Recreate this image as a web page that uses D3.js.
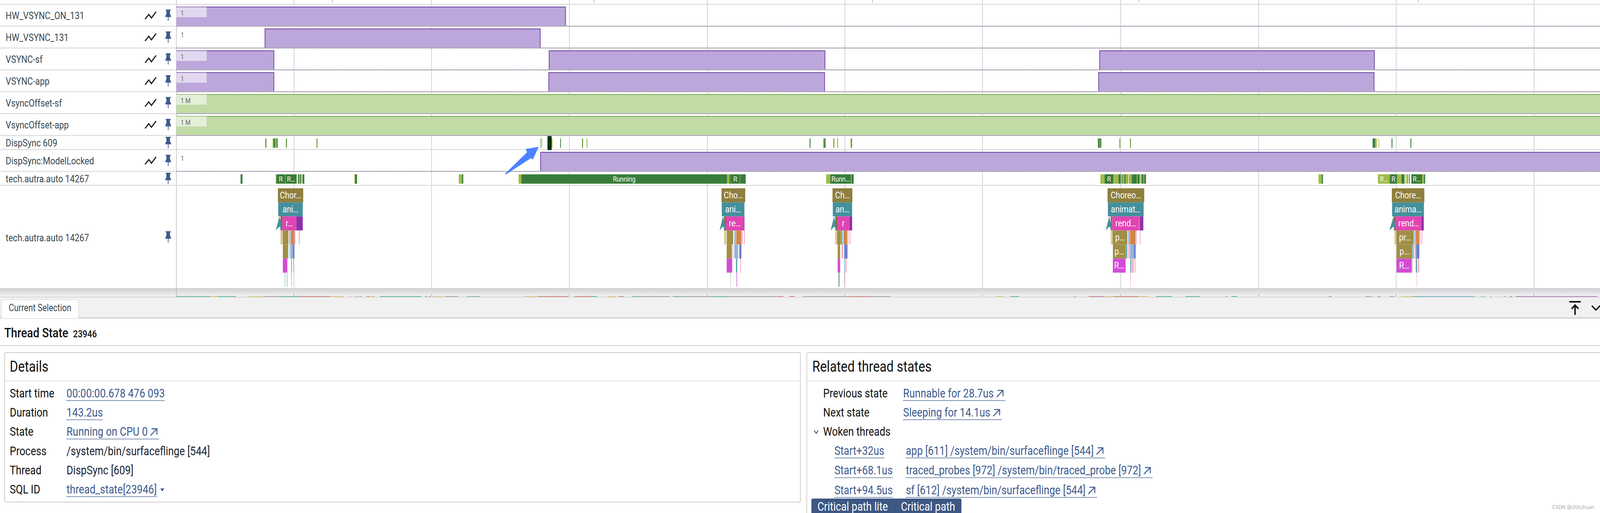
<!DOCTYPE html>
<html lang="en">
<head>
<meta charset="UTF-8">
<script src="https://d3js.org/d3.v7.min.js"></script>
<style>
  html, body { margin: 0; padding: 0; background: #fff; overflow: hidden; }
  svg { display: block; width: 100vw; height: 100vh; font-family: Roboto, sans-serif; }
</style>
</head>
<body>
<!-- the browser window can come out narrower than asked, so the drawing scales to whatever it gets -->
<svg id="chart" viewBox="0 0 4490 1314" preserveAspectRatio="none"></svg>
<script>
// timeline units run from 0 to 3995 across the track area
const timeDomain = [0, 3995];
const gridTicks = [330, 716, 1103, 1490, 1876, 2262, 2650, 3037, 3423, 3810];
const topTicks = [438, 1172, 1953, 2701, 3485];

const trackNames = ['HW_VSYNC_ON_131', 'HW_VSYNC_131', 'VSYNC-sf', 'VSYNC-app', 'VsyncOffset-sf', 'VsyncOffset-app',
  'DispSync 609', 'DispSync:ModelLocked', 'tech.autra.auto 14267', 'tech.autra.auto 14267'];
const trackKinds = ['counter', 'counter', 'counter', 'counter', 'counter', 'counter', 'thread', 'counter', 'thread', 'flame'];
const counterLabels = ['1', '1', '1', '1', '1 M', '1 M', '', '1', '', ''];

// counters: [time, value] steps
const hwVsyncOn = [[0, 1], [1092, 0], [3995, 0]];
const hwVsync = [[0, 0], [248.6, 1], [1021, 0], [3995, 0]];
const vsyncSf = [[0, 1], [273.5, 0], [1046, 1], [1820, 0], [2591, 1], [3362, 0], [3995, 0]];
const vsyncApp = [[0, 1], [273.5, 0], [1045, 1], [1819, 0], [2588, 1], [3361, 0], [3995, 0]];
const offsetSf = [[0, 1], [3995, 1]];
const offsetApp = [[0, 1], [3995, 1]];
const modelLocked = [[0, 0], [1022, 1], [3995, 1]];
const counterSeries = [hwVsyncOn, hwVsync, vsyncSf, vsyncApp, offsetSf, offsetApp, null, modelLocked, null, null];

// thread states: [start, end, state, label]
const dispSyncStates = [
  [249.6, 252, 'R'], [252, 253, 'r'], [270, 272.5, 'r'], [272.5, 277, 'R'], [277, 281, 'r'], [281, 283.5, 'R'], [283.5, 285, 'r'],
  [307, 308.5, 'r'], [308.5, 310, 'R'], [393, 394, 'r'], [394, 395.6, 'R'],
  [1022, 1023.3, 'R'], [1025, 1026.5, 'r'], [1053, 1055.5, 'r'], [1077, 1079, 'R'],
  [1138, 1139.5, 'r'], [1139.5, 1141, 'R'], [1151, 1153.6, 'r'],
  [1777, 1779.5, 'R'], [1816, 1819, 'R'], [1819, 1820, 'r'], [1820, 1822, 'R'], [1843, 1847, 'r'], [1855, 1856.5, 'R'],
  [1891.6, 1894, 'r'], [1894, 1896, 'R'],
  [2586, 2590, 'R'], [2590, 2591, 'r'], [2591, 2594, 'R'], [2594, 2596.5, 'r'], [2645.5, 2649, 'r'], [2676, 2677, 'r'], [2677, 2678.6, 'R'],
  [3357, 3364, 'R'], [3364, 3368.5, 'r'], [3373.5, 3375, 'r'], [3410, 3412.5, 'R'], [3463, 3465.5, 'R']
];
const selectedState = [1041.4, 1053];
const techStates = [
  [180, 185.5, 'R'],
  [278.7, 280.5, 'r'], [280.5, 305.4, 'R', 'R'], [305.9, 337.6, 'R', 'R…'], [340.3, 342, 'r'], [342, 345, 'R'], [345, 348, 'r'], [348, 351, 'R'], [353.7, 359, 'R'],
  [499.6, 501.5, 'r'], [501.5, 506.8, 'R'],
  [792.5, 801.4, 'r'], [801.4, 805, 'R'],
  [960.3, 968, 'r'], [968, 1545.6, 'R', 'Running'], [1545.6, 1551.7, 'r'], [1551.7, 1555.6, 'R'], [1556, 1581, 'R', 'R'], [1581.6, 1597.6, 'R'],
  [1823.4, 1835, 'r'], [1835, 1893, 'R', 'Runn…'], [1894, 1900.6, 'R'],
  [2593, 2604.8, 'r'], [2604.8, 2629.7, 'R', 'R'], [2629.7, 2643.8, 'r'], [2643.8, 2650, 'R'], [2651, 2654, 'r'], [2654, 2656, 'R'], [2656, 2660, 'r'],
  [2660, 2664, 'R'], [2664, 2668, 'r'], [2668, 2670, 'R'], [2672, 2681, 'r'], [2681, 2695, 'R'], [2695, 2697, 'r'], [2697, 2703.5, 'R'],
  [2705, 2709, 'r'], [2709, 2714, 'R'], [2714, 2716, 'r'], [2716, 2721, 'R'],
  [3205, 3214, 'r'], [3214, 3217.6, 'R'],
  [3371.8, 3405, 'r', 'R…'], [3405, 3425.7, 'R', 'R'], [3425.7, 3438, 'r'], [3438, 3446, 'R'], [3447, 3449, 'r'], [3451, 3457, 'r'], [3459, 3461, 'R'],
  [3465.6, 3496, 'R', 'R…'], [3496, 3501, 'r'], [3501, 3504.5, 'R']
];

// flame slices: [start, end, depth, kind, label]
const flameBurst1 = [
  [284.9, 355.9, 0, 'choreo', 'Chor…'], [285.8, 354.6, 1, 'anim', 'ani…'],
  [292, 297.4, 2, 'brown'], [297.4, 336.7, 2, 'render', 'r…'], [336.7, 354.6, 2, 'draw'],
  [292, 298.7, 3, 'tan'], [298.7, 314.4, 3, 'olive'], [316.6, 320, 3, 'blue'], [321, 331, 3, 'orange'], [331.8, 333.6, 3, 'rose'], [343.8, 345.6, 3, 'rose'],
  [298.7, 310.8, 4, 'olive'], [310.8, 314, 4, 'teal'], [317.5, 318.8, 4, 'rose'], [320, 327, 4, 'blue'], [327, 331.3, 4, 'navy'],
  [298.7, 311.3, 5, 'magenta'], [322, 324, 5, 'teal'], [328, 329.5, 5, 'rose'],
  [304, 305, 6, 'mint'], [310, 311.3, 6, 'teal'], [322.9, 323.8, 6, 'magenta']
];
const flameBurst2 = [
  [1529.7, 1596.3, 0, 'choreo', 'Cho…'], [1530.5, 1594, 1, 'anim', 'ani…'],
  [1536.6, 1542.8, 2, 'brown'], [1542.8, 1591.7, 2, 'render', 're…'], [1591.7, 1594, 2, 'draw'],
  [1536.6, 1542.8, 3, 'tan'], [1544.3, 1562.6, 3, 'olive'], [1565.7, 1570.3, 3, 'blue'], [1571, 1585.6, 3, 'orange'], [1587, 1588.7, 3, 'rose'], [1593.2, 1594.8, 3, 'rose'],
  [1544.3, 1558.8, 4, 'olive'], [1561, 1562.6, 4, 'rose'], [1565.7, 1576.4, 4, 'blue'], [1579.5, 1585.6, 4, 'navy'],
  [1544.3, 1559.6, 5, 'magenta'], [1570.3, 1574, 5, 'teal'], [1582.5, 1584, 5, 'rose'],
  [1555, 1555.8, 6, 'mint'], [1571.8, 1573.3, 6, 'magenta']
];
const flameBurst3 = [
  [1841.2, 1897, 0, 'choreo', 'Ch…'], [1842, 1896.3, 1, 'anim', 'an…'],
  [1848.9, 1854.2, 2, 'brown'], [1854.2, 1888.6, 2, 'render', 'r'], [1888.6, 1896.3, 2, 'draw'],
  [1848.9, 1854.2, 3, 'tan'], [1854.2, 1865, 3, 'olive'], [1865.7, 1869.5, 3, 'teal'], [1871.8, 1882.5, 3, 'orange'], [1884, 1885.6, 3, 'rose'], [1889.4, 1891, 3, 'rose'],
  [1855.8, 1862.7, 4, 'olive'], [1867.2, 1870.3, 4, 'rose'], [1874, 1883.3, 4, 'navy'],
  [1855.8, 1862.7, 5, 'magenta'], [1875, 1877, 5, 'teal'], [1879.5, 1881, 5, 'rose'],
  [1858, 1861, 6, 'mint'], [1874, 1875, 6, 'rose']
];
const flameBurst4 = [
  [2613, 2716, 0, 'choreo', 'Choreo…'], [2614, 2714.3, 1, 'anim', 'animat…'],
  [2622, 2626.4, 2, 'brown'], [2626.4, 2701.8, 2, 'render', 'rend…'], [2702.7, 2713.5, 2, 'draw'],
  [2622, 2626.4, 3, 'tan'], [2627, 2668.7, 3, 'olive', 'p…'], [2671, 2675.3, 3, 'blue'], [2676, 2691.9, 3, 'orange'], [2693.6, 2695, 3, 'rose'], [2703.5, 2705, 3, 'rose'],
  [2628, 2664.5, 4, 'olive', 'p…'], [2665, 2668.7, 4, 'teal'], [2672, 2674.5, 4, 'rose'], [2676, 2687, 4, 'blue'], [2687, 2692, 4, 'navy'],
  [2628, 2663.7, 5, 'magenta', 'R…'], [2677, 2680.3, 5, 'teal'], [2682.8, 2686, 5, 'rose'], [2689.4, 2691, 5, 'rose'],
  [2677, 2678, 6, 'rose']
];
const flameBurst5 = [
  [3410.8, 3502, 0, 'choreo', 'Chore…'], [3411.6, 3501, 1, 'anim', 'anima…'],
  [3416.6, 3422.4, 2, 'brown'], [3422.4, 3493.7, 2, 'render', 'rend…'], [3493.7, 3500.4, 2, 'draw'],
  [3418, 3422.4, 3, 'tan'], [3423.3, 3472.2, 3, 'olive', 'pr…'], [3473.8, 3477, 3, 'blue'], [3478, 3488, 3, 'orange'], [3489.6, 3491, 3, 'rose'], [3494.6, 3496, 3, 'rose'],
  [3424, 3468, 4, 'olive', 'p…'], [3469, 3472, 4, 'teal'], [3475, 3477.5, 4, 'rose'], [3478.8, 3488, 4, 'navy'],
  [3424, 3467, 5, 'magenta', 'R…'], [3468, 3469.6, 5, 'tan'], [3478, 3482, 5, 'teal'], [3484.6, 3487, 5, 'rose'],
  [3480.5, 3481.3, 6, 'rose']
];
const flameSlices = [...flameBurst1, ...flameBurst2, ...flameBurst3, ...flameBurst4, ...flameBurst5];
// instant events on depth 2: [left, apex, right]
const flameInstants = [[279, 289, 299], [1524.4, 1533.6, 1543.5], [1835.8, 1845.8, 1853.4], [2608, 2618, 2626.4], [3404, 3415.8, 3422.4]];

// overview strip under the tracks: [start, end, group]
const overviewSlices = [
  [1, 94, 'teal'], [94, 115, 'gold'], [115, 167, 'teal'], [203, 247, 'gold'], [247, 290, 'gray'], [290, 347, 'teal'], [347, 431, 'red'], [431, 470, 'gold'],
  [486, 489, 'red'], [500, 511, 'gold'], [513, 520, 'blue'], [534, 543, 'red'], [545, 558, 'gold'], [571, 687, 'teal'], [698, 703, 'teal'], [707, 713, 'red'],
  [720, 747, 'gold'], [752, 790, 'gray'], [814, 828, 'cyan'], [828, 852, 'gray'], [977, 1015, 'gold'], [1015, 1100, 'red'], [1117, 1165, 'red'], [1165, 1180, 'teal'],
  [1192, 1195, 'gold'], [1211, 1234, 'gold'], [1241, 1256, 'red'], [1279, 1295, 'teal'], [1295, 1385, 'gray'], [1393, 1420, 'teal'], [1420, 1505, 'gray'],
  [1505, 1550, 'teal'], [1550, 1687, 'gray'], [1687, 1703, 'red'], [1720, 1735, 'red'], [1758, 1888, 'gray'], [1888, 1949, 'red'], [1949, 2005, 'gray'],
  [2300, 2320, 'gold'], [2340, 2365, 'teal'], [2517, 2525, 'gold'], [2560, 2587, 'red'], [2587, 2604, 'purple'], [2604, 2629, 'gold'], [2629, 2699, 'red'],
  [2699, 2728, 'gold'], [2749, 2795, 'teal'], [2832, 2873, 'teal'], [2944, 2948, 'purple'], [2961, 2977, 'teal'], [3234, 3242, 'teal'], [3337, 3354, 'gray'],
  [3371, 3380, 'blue'], [3405, 3417, 'gray'], [3437, 3470, 'gold'], [3470, 3500, 'teal'], [3500, 3645, 'blue'], [3660, 3664, 'gray'], [3668, 3672, 'teal'],
  [3687, 3690, 'teal'], [3724, 3730, 'gray'], [3742, 3748, 'purple'], [3758, 3988, 'purple']
];

const detailLabels = ['Start time', 'Duration', 'State', 'Process', 'Thread', 'SQL ID'];
const detailValues = ['00:00:00.678 476 093', '143.2us', 'Running on CPU 0', '/system/bin/surfaceflinge [544]', 'DispSync [609]', 'thread_state[23946]'];
const relatedLabels = ['Previous state', 'Next state', 'Woken threads'];
const relatedValues = ['Runnable for 28.7us', 'Sleeping for 14.1us', ''];
const wokenOffsets = ['Start+32us', 'Start+68.1us', 'Start+94.5us'];
const wokenThreads = ['app [611] /system/bin/surfaceflinge [544]', 'traced_probes [972] /system/bin/traced_probe [972]', 'sf [612] /system/bin/surfaceflinge [544]'];

const counterColors = { purple: ['#bca6db', '#6b40a0'], green: ['#c1dba5', '#76a84a'] };
const stateColors = { R: '#387d3a', r: '#9fbb45' };
const flameColors = {
  choreo: '#8f7f3e', anim: '#44909c', brown: '#8a6b3c', render: '#e244b4', draw: '#8e32a8', tan: '#dcc89a', olive: '#a08f45',
  blue: '#94b2d8', orange: '#d2854a', rose: '#e888a8', teal: '#5ea9b0', navy: '#6a7fc8', magenta: '#d24cd6', mint: '#6aa88a'
};
const overviewColors = { teal: '#1aa08a', gold: '#e0b83f', gray: '#8a8a8a', red: '#d24b45', blue: '#3f9fd0', cyan: '#2fb8d0', purple: '#9a4fb0' };

const sepColor = '#dcdcdc';
const linkColor = '#3d5a8c';
const labelColor = '#37474f';
// the reference text is a little narrower than plain Roboto
const squeezeX = 0.92;

const svg = d3.select('#chart');
const x = d3.scaleLinear().domain(timeDomain).range([495, 4490]);

function squeeze(sel) {
  const w = sel.node().getComputedTextLength();
  if (w > 0) sel.attr('textLength', w * squeezeX).attr('lengthAdjust', 'spacingAndGlyphs');
  return w * squeezeX;
}

// track layout
const kindHeight = { counter: 56, thread: 36, flame: 263.5 };
const tracksTop = 11;
let cursor = tracksTop;
const tracks = trackNames.map((name, i) => {
  const t = { name, kind: trackKinds[i], top: cursor, h: kindHeight[trackKinds[i]], series: counterSeries[i], label: counterLabels[i], green: name.startsWith('VsyncOffset') };
  cursor += t.h;
  return t;
});
const tracksBottom = cursor;

const gGrid = svg.append('g');
gGrid.selectAll('line').data(gridTicks).enter().append('line')
  .attr('x1', d => x(d)).attr('x2', d => x(d)).attr('y1', 0).attr('y2', tracksBottom)
  .attr('stroke', '#cfcfd2').attr('stroke-width', 2);
svg.append('line').attr('x1', 495).attr('x2', 495).attr('y1', 0).attr('y2', 760).attr('stroke', '#c4c6cc').attr('stroke-width', 2);
svg.append('g').selectAll('line').data(topTicks).enter().append('line')
  .attr('x1', d => x(d)).attr('x2', d => x(d)).attr('y1', 0).attr('y2', 6)
  .attr('stroke', '#8a9ae8').attr('stroke-width', 1.5);

// counters
const counterTracks = tracks.filter(t => t.kind === 'counter');
counterTracks.forEach(t => {
  const y = d3.scaleLinear().domain([0, 1]).range([t.top + t.h, t.top + 7]);
  const [fill, stroke] = t.green ? counterColors.green : counterColors.purple;
  const area = d3.area().x(d => x(d[0])).y0(y(0)).y1(d => y(d[1])).curve(d3.curveStepAfter);
  const line = d3.line().x(d => x(d[0])).y(d => y(d[1])).curve(d3.curveStepAfter);
  svg.append('path').datum(t.series).attr('d', area).attr('fill', fill);
  svg.append('path').datum(t.series).attr('d', line).attr('fill', 'none').attr('stroke', stroke).attr('stroke-width', 2);
});

// separators sit over the counter baselines
svg.append('g').selectAll('line').data([tracksTop, ...tracks.map(t => t.top + t.h)].slice(0, 10)).enter().append('line')
  .attr('x1', 0).attr('x2', 4490).attr('y1', d => d).attr('y2', d => d)
  .attr('stroke', sepColor).attr('stroke-width', 2.5);
counterTracks.forEach(t => {
  svg.append('line').attr('x1', 495).attr('x2', 4490).attr('y1', t.top + t.h).attr('y2', t.top + t.h)
    .attr('stroke', '#4b3a70').attr('stroke-width', 1.5).attr('stroke-dasharray', '2,2');
  svg.append('rect').attr('x', 495).attr('y', t.top + 7).attr('width', 85).attr('height', 26)
    .attr('fill', '#fff').attr('fill-opacity', t.series[0][1] ? 0.57 : 0);
  svg.append('text').attr('x', 507).attr('y', t.top + 29).attr('font-size', 18).attr('fill', '#666').text(t.label);
});

// thread state rows
const threadTracks = tracks.filter(t => t.kind === 'thread');
function drawStates(track, states) {
  const g = svg.append('g');
  const top = track.top + 7.5;
  g.selectAll('rect').data(states).enter().append('rect')
    .attr('x', d => x(d[0])).attr('y', top)
    .attr('width', d => x(d[1]) - x(d[0])).attr('height', 24)
    .attr('fill', d => stateColors[d[2]]);
  g.selectAll('text').data(states.filter(d => d[3])).enter().append('text')
    .attr('x', d => (x(d[0]) + x(d[1])) / 2).attr('y', top + 18.5)
    .attr('text-anchor', 'middle').attr('font-size', 19).attr('fill', '#fff').text(d => d[3]);
}
drawStates(threadTracks[0], dispSyncStates);
drawStates(threadTracks[1], techStates);
svg.append('rect').attr('x', x(selectedState[0])).attr('y', threadTracks[0].top + 1.5)
  .attr('width', x(selectedState[1]) - x(selectedState[0])).attr('height', 36).attr('fill', '#03320a');

// flame chart
const flameTrack = tracks[tracks.length - 1];
const depth = d3.scaleLinear().domain([0, 7]).range([flameTrack.top + 7.3, flameTrack.top + 7.3 + 252]);
const gFlame = svg.append('g');
gFlame.selectAll('rect').data(flameSlices).enter().append('rect')
  .attr('x', d => x(d[0])).attr('y', d => depth(d[2]))
  .attr('width', d => x(d[1]) - x(d[0])).attr('height', depth(1) - depth(0))
  .attr('fill', d => flameColors[d[3]]);
gFlame.selectAll('path').data(flameInstants).enter().append('path')
  .attr('fill', flameColors.anim)
  .attr('d', d => `M${x(d[1])},${depth(2)}L${x(d[2])},${depth(3)}L${x(d[1])},${depth(2.72)}L${x(d[0])},${depth(3)}Z`);
gFlame.selectAll('text').data(flameSlices.filter(d => d[4])).enter().append('text')
  .attr('x', d => (x(d[0]) + x(d[1])) / 2).attr('y', d => depth(d[2]) + 26)
  .attr('text-anchor', 'middle').attr('font-size', 24).attr('fill', '#fff').text(d => d[4]);

// blue annotation arrow
svg.append('path').attr('fill', '#4d82ff')
  .attr('d', 'M1511.7,376L1475,381.7L1479,390L1417.3,445L1420,446.7L1490,405L1495,409Z');

// left column
const pinPath = 'M-7,0H7V3H5V11L8,17V19H1V29H-1V19H-8V17L-5,11V3H-7Z';
const gLabels = svg.append('g');
tracks.forEach(t => {
  const mid = t.top + t.h / 2;
  const baseline = t.kind === 'flame' ? mid + 11 : mid + 10;
  gLabels.append('text').attr('x', 16).attr('y', baseline).attr('font-size', 26).attr('fill', labelColor).text(t.name);
  gLabels.append('path').attr('d', pinPath).attr('transform', `translate(472,${mid - 14.5})`).attr('fill', linkColor);
  if (t.kind === 'counter') {
    gLabels.append('path').attr('d', 'M0,19L10.5,7L18,16L31,0').attr('transform', `translate(407,${mid - 9})`)
      .attr('fill', 'none').attr('stroke', '#1c2024').attr('stroke-width', 3.2);
  }
});

// overview strip and tab bar
const defs = svg.append('defs');
const grad = defs.append('linearGradient').attr('id', 'shade').attr('x1', 0).attr('x2', 0).attr('y1', 0).attr('y2', 1);
grad.append('stop').attr('offset', 0).attr('stop-color', '#cfd0d3');
grad.append('stop').attr('offset', 1).attr('stop-color', '#f3f3f4');
svg.append('rect').attr('x', 0).attr('y', 738).attr('width', 4490).attr('height', 22).attr('fill', 'url(#shade)');
svg.append('line').attr('x1', 495).attr('x2', 495).attr('y1', 738).attr('y2', 760).attr('stroke', '#b8b8bc').attr('stroke-width', 2);
svg.append('g').selectAll('line').data(gridTicks).enter().append('line')
  .attr('x1', d => x(d)).attr('x2', d => x(d)).attr('y1', 753).attr('y2', 760)
  .attr('stroke', '#b8b8bc').attr('stroke-width', 2);
svg.append('g').selectAll('rect').data(overviewSlices).enter().append('rect')
  .attr('x', d => x(d[0])).attr('y', 758.8).attr('width', d => x(d[1]) - x(d[0])).attr('height', 1.3)
  .attr('fill', d => overviewColors[d[2]]);
svg.append('rect').attr('x', 0).attr('y', 760).attr('width', 4490).attr('height', 56).attr('fill', '#f1f1f1');
svg.append('rect').attr('x', 0).attr('y', 760).attr('width', 4490).attr('height', 2).attr('fill', '#d4d4d4');
svg.append('rect').attr('x', 0).attr('y', 813).attr('width', 4490).attr('height', 3).attr('fill', '#cfcfcf');
svg.append('path').attr('d', 'M4,816V771Q4,767.5 8,767.5H216Q220,767.5 220,771V816Z')
  .attr('fill', '#fff').attr('stroke', '#dadada').attr('stroke-width', 1.5);
svg.append('text').attr('x', 24.5).attr('y', 797).attr('font-size', 25).attr('fill', labelColor).text('Current Selection');

// tab bar icons
svg.append('rect').attr('x', 4404).attr('y', 771).attr('width', 32).attr('height', 4).attr('fill', '#111');
svg.append('path').attr('d', 'M4420,806.5V782M4410.5,791L4420,781.5L4429.5,791').attr('fill', 'none').attr('stroke', '#111').attr('stroke-width', 4);
svg.append('path').attr('d', 'M4467,783L4478.5,794L4490,783').attr('fill', 'none').attr('stroke', '#111').attr('stroke-width', 3.5);

// details header
svg.append('text').attr('x', 12).attr('y', 864.5).attr('font-size', 34).attr('font-weight', 500).attr('fill', '#111').text('Thread State');
svg.append('text').attr('x', 205).attr('y', 864.5).attr('font-size', 25.5).attr('font-weight', 500).attr('fill', '#111').text('23946');
svg.append('line').attr('x1', 0).attr('x2', 4490).attr('y1', 885).attr('y2', 885).attr('stroke', '#cccccc').attr('stroke-width', 2);

function panel(x0, x1, y1, title, titleX) {
  svg.append('path').attr('d', `M${x1},903H${x0 + 4}Q${x0},903 ${x0},907V${y1 - 4}Q${x0},${y1} ${x0 + 4},${y1}H${x1}` + (x1 < 4490 ? `M${x1},903V${y1}` : ''))
    .attr('fill', 'none').attr('stroke', '#cccccc').attr('stroke-width', 2);
  svg.append('line').attr('x1', x0).attr('x2', x1).attr('y1', 976).attr('y2', 976).attr('stroke', '#e2e2e2').attr('stroke-width', 2);
  svg.append('text').attr('x', titleX).attr('y', 952.5).attr('font-size', 38.5).attr('fill', '#111').text(title);
}
panel(13, 2246, 1286, 'Details', 27.5);
panel(2264, 4490, 1400, 'Related thread states', 2279.6);

const bodySize = 31;
function arrowIcon(px, baseline, color) {
  svg.append('path').attr('d', `M${px},${baseline - 1}L${px + 17},${baseline - 17}M${px + 3},${baseline - 18}H${px + 18}V${baseline - 3}`)
    .attr('fill', 'none').attr('stroke', color).attr('stroke-width', 2.6);
}
// a link with its dotted underline; the underline follows the drawn text
function linkText(px, baseline, str, arrow) {
  const t = svg.append('text').attr('x', px).attr('y', baseline).attr('font-size', bodySize).attr('fill', linkColor).text(str);
  let w = squeeze(t);
  if (arrow) { arrowIcon(px + w + 8, baseline, linkColor); w += 32; }
  svg.append('line').attr('x1', px).attr('x2', px + w).attr('y1', baseline + 8).attr('y2', baseline + 8)
    .attr('stroke', linkColor).attr('stroke-width', 2).attr('stroke-dasharray', '2,1');
  return w;
}

const detailBase = d3.scaleLinear().domain([0, 5]).range([1018, 1264]);
detailLabels.forEach((d, i) => {
  svg.append('text').attr('x', 27.5).attr('y', detailBase(i)).attr('font-size', bodySize).attr('fill', '#111').text(d);
  if (i === 3 || i === 4) {
    svg.append('text').attr('x', 186.7).attr('y', detailBase(i)).attr('font-size', bodySize).attr('fill', '#1c2430').text(detailValues[i]);
  } else {
    const w = linkText(186.7, detailBase(i), detailValues[i], i === 2);
    if (i === 5) svg.append('path').attr('d', `M${186.7 + w + 10},${detailBase(i) - 13}h11l-5.5,8z`).attr('fill', linkColor);
  }
});

const relatedBase = d3.scaleLinear().domain([0, 2]).range([1018, 1116]);
relatedLabels.forEach((d, i) => {
  svg.append('text').attr('x', 2310).attr('y', relatedBase(i)).attr('font-size', bodySize).attr('fill', '#111').text(d);
  if (relatedValues[i]) linkText(2534.4, relatedBase(i), relatedValues[i], true);
});
svg.append('path').attr('d', 'M2285,1102.5L2290.5,1110L2296,1102.5').attr('fill', 'none').attr('stroke', '#222').attr('stroke-width', 1.8);

const wokenBase = d3.scaleLinear().domain([0, 2]).range([1165, 1266]);
wokenOffsets.forEach((d, i) => {
  linkText(2341.6, wokenBase(i), d, false);
  linkText(2542, wokenBase(i), wokenThreads[i], true);
});

// buttons clipped by the page bottom
svg.append('path').attr('d', 'M2277,1314V1281Q2277,1277 2281,1277H2694Q2698,1277 2698,1281V1314Z').attr('fill', '#3d5783');
svg.append('text').attr('x', 2294).attr('y', 1308).attr('font-size', bodySize).attr('fill', '#fff').text('Critical path lite');
svg.append('text').attr('x', 2528).attr('y', 1308).attr('font-size', bodySize).attr('fill', '#fff').text('Critical path');

svg.append('text').attr('x', 4356).attr('y', 1304).attr('font-size', 14).attr('font-family', 'DejaVu Sans').attr('fill', '#a9a9a9').text('CSDN @chituhuan');

// every text not yet squeezed gets the same narrowing
svg.selectAll('text').each(function () {
  const t = d3.select(this);
  if (!t.attr('textLength') && t.text()) squeeze(t);
});
</script>
</body>
</html>
